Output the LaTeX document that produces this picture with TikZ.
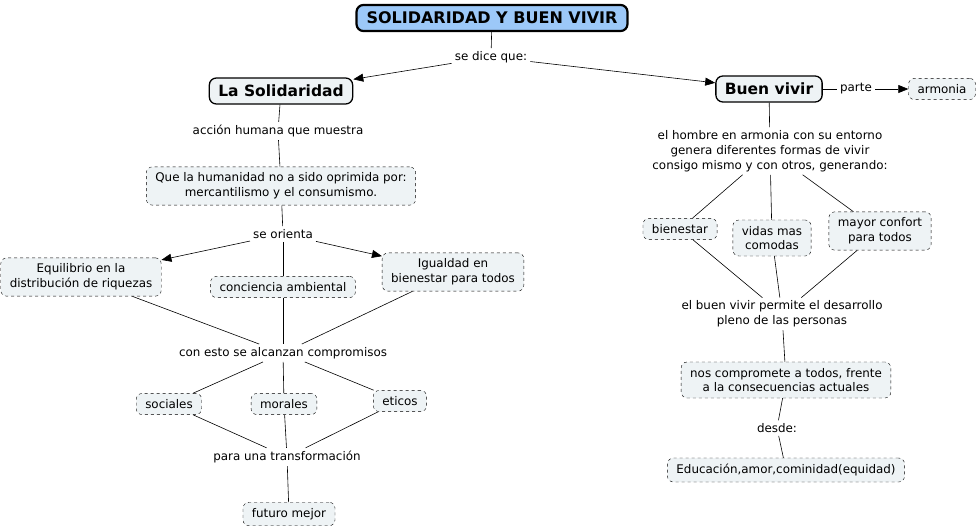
\documentclass[tikz,border=0pt]{standalone}
\usepackage{fontspec}
\setmainfont{DejaVu Sans}
\usetikzlibrary{arrows.meta}
\definecolor{cfill}{HTML}{EEF3F5}
\definecolor{tfill}{HTML}{9CC8F8}
\begin{document}
\begin{tikzpicture}[x=1pt,y=-1pt,
  every node/.style={font=\fontsize{11.9}{14.8}\selectfont,align=center},
  lbl/.style={inner sep=3pt,fill=white},
  cbox/.style={draw,dashed,rounded corners=6pt,fill=cfill,inner xsep=9pt,inner ysep=6pt},
  mbox/.style={draw,line width=1.3pt,rounded corners=7pt,fill=cfill,inner xsep=9pt,inner ysep=7pt,font=\fontsize{15.5}{18}\selectfont\bfseries},
  ln/.style={draw,line width=0.6pt},
  ar/.style={ln,-{Triangle[length=10pt,width=8pt]}}]
\useasboundingbox (0,0) rectangle (977,531);
\node[draw,line width=2.2pt,rounded corners=7pt,fill=tfill,inner xsep=10pt,inner ysep=7pt,font=\fontsize{16}{18}\selectfont\bfseries] (title) at (492,18) {SOLIDARIDAD Y BUEN VIVIR};
\node[lbl] (sedice) at (491,57) {se dice que:};
\node[mbox] (sol) at (281,91) {La Solidaridad};
\node[lbl] (accion) at (278,131) {acción humana que muestra};
\node[cbox] (que) at (281,186) {Que la humanidad no a sido oprimida por:\\mercantilismo y el consumismo.};
\node[lbl] (orienta) at (283,234) {se orienta};
\node[cbox] (equil) at (81,277) {Equilibrio en la\\distribución de riquezas};
\node[cbox] (conc) at (283,287) {conciencia ambiental};
\node[cbox] (igual) at (453,272) {Igualdad en\\bienestar para todos};
\node[lbl] (conesto) at (283,353) {con esto se alcanzan compromisos};
\node[cbox] (soc) at (169,404) {sociales};
\node[cbox] (mor) at (284,404) {morales};
\node[cbox] (eti) at (400,401) {eticos};
\node[lbl] (trans) at (287,457) {para una transformación};
\node[cbox] (fut) at (289,514) {futuro mejor};
\node[mbox] (bv) at (769,89) {Buen vivir};
\node[lbl] (parte) at (856,89) {parte};
\node[cbox] (arm) at (942,89) {armonia};
\node[lbl] (hombre) at (770,151) {el hombre en armonia con su entorno\\genera diferentes formas de vivir\\consigo mismo y con otros, generando:};
\node[cbox] (bien) at (680,229) {bienestar};
\node[cbox] (vidas) at (772,238) {vidas mas\\comodas};
\node[cbox] (mayor) at (880,231) {mayor confort\\para todos};
\node[lbl] (permite) at (782,314) {el buen vivir permite el desarrollo\\pleno de las personas};
\node[cbox] (nos) at (786,380) {nos compromete a todos, frente\\a la consecuencias actuales};
\node[lbl] (desde) at (777,428) {desde:};
\node[cbox] (educ) at (786,470) {Educación,amor,cominidad(equidad)};
\draw[ln] (title) -- (sedice);
\draw[ar] (sedice) -- (sol);
\draw[ar] (sedice) -- (bv);
\draw[ln] (sol) -- (accion);
\draw[ln] (accion) -- (que);
\draw[ln] (que) -- (orienta);
\draw[ar] (orienta) -- (equil);
\draw[ln] (orienta) -- (conc);
\draw[ar] (orienta) -- (igual);
\draw[ln] (equil) -- (conesto);
\draw[ln] (conc) -- (conesto);
\draw[ln] (igual) -- (conesto);
\draw[ln] (conesto) -- (soc);
\draw[ln] (conesto) -- (mor);
\draw[ln] (conesto) -- (eti);
\draw[ln] (soc) -- (trans);
\draw[ln] (mor) -- (trans);
\draw[ln] (eti) -- (trans);
\draw[ln] (trans) -- (fut);
\draw[ln] (bv) -- (parte);
\draw[ar] (parte) -- (arm);
\draw[ln] (bv) -- (hombre);
\draw[ln] (hombre) -- (bien);
\draw[ln] (hombre) -- (vidas);
\draw[ln] (hombre) -- (mayor);
\draw[ln] (bien) -- (permite);
\draw[ln] (vidas) -- (permite);
\draw[ln] (mayor) -- (permite);
\draw[ln] (permite) -- (nos);
\draw[ln] (nos) -- (desde);
\draw[ln] (desde) -- (educ);
\end{tikzpicture}
\end{document}
